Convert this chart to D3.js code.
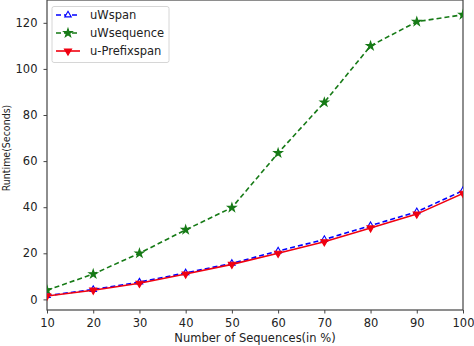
<!DOCTYPE html>
<html><head><meta charset="utf-8">
<script src="https://cdn.jsdelivr.net/npm/d3@7"></script>
<style>body{margin:0;background:#fff}svg{display:block;font-family:"DejaVu Sans",sans-serif}</style>
</head><body><svg id="c" width="474" height="346"></svg>
<script>
const xValues = [10,20,30,40,50,60,70,80,90,100];
const uWspan = [1.6,4.3,7.5,11.5,15.6,21,26,32,38,47.2];
const uWsequence = [4,11,20,30.2,39.8,63.5,85.5,110,120.5,123.5];
const uPrefixspan = [1.5,4,7,11,15.2,20,25,31,37,46];
const xTicks = [10,20,30,40,50,60,70,80,90,100];
const yTicks = [0,20,40,60,80,100,120];
const seriesNames = ["uWspan","uWsequence","u-Prefixspan"];

const svg = d3.select("#c");
const L=47,R=463,T=0,B=310;
const x = d3.scaleLinear().domain([10,100]).range([L,R]);
const y = d3.scaleLinear().domain([-4.6,129.9]).range([B,T]);
const fs="11.5px";
const axisColor="#444";
const gx = svg.append("g").attr("transform",`translate(0,${B})`)
  .call(d3.axisBottom(x).tickValues(xTicks).tickSize(3.5).tickPadding(5));
const gy = svg.append("g").attr("transform",`translate(${L},0)`)
  .call(d3.axisLeft(y).tickValues(yTicks).tickSize(3.5).tickPadding(6));
[gx,gy].forEach(g=>{g.select(".domain").remove();g.selectAll("line").attr("stroke",axisColor);
  g.selectAll("text").attr("font-size",fs).attr("fill","#222").attr("font-family","DejaVu Sans");});
svg.append("rect").attr("x",L).attr("y",T).attr("width",R-L).attr("height",B-T)
  .attr("fill","none").attr("stroke",axisColor).attr("stroke-width",1.2);

const line = d3.line().x((d,i)=>x(xValues[i])).y(d=>y(d));
const series = [
  {name:seriesNames[0],data:uWspan,color:"#0000ff",dash:"5,3",sym:d3.symbolTriangle,fill:"#fff",rot:0,size:18},
  {name:seriesNames[1],data:uWsequence,color:"#167a16",dash:"5,3",sym:d3.symbolStar,fill:"#167a16",rot:0,size:22},
  {name:seriesNames[2],data:uPrefixspan,color:"#f00010",dash:null,sym:d3.symbolTriangle,fill:"#f00010",rot:180,size:22},
];
svg.append("clipPath").attr("id","cp").append("rect").attr("x",L).attr("y",T).attr("width",R-L).attr("height",B-T);
const plot = svg.append("g").attr("clip-path","url(#cp)");
series.forEach(s=>{
  plot.append("path").attr("d",line(s.data)).attr("fill","none").attr("stroke",s.color)
    .attr("stroke-width",1.6).attr("stroke-dasharray",s.dash);
  plot.selectAll(null).data(s.data).enter().append("path")
    .attr("d",d3.symbol().type(s.sym).size(s.size))
    .attr("transform",(d,i)=>`translate(${x(xValues[i])},${y(d)}) rotate(${s.rot})`)
    .attr("fill",s.fill).attr("stroke",s.color).attr("stroke-width",1.1);
});

// legend
const lg = svg.append("g");
lg.append("rect").attr("x",52).attr("y",6.5).attr("width",117).attr("height",56).attr("rx",2)
  .attr("fill","#fff").attr("stroke","#ccc").attr("stroke-width",0.8);
series.forEach((s,i)=>{
  const yy=15+i*18;
  lg.append("line").attr("x1",56).attr("x2",80).attr("y1",yy).attr("y2",yy)
    .attr("stroke",s.color).attr("stroke-width",1.6).attr("stroke-dasharray",s.dash);
  lg.append("path").attr("d",d3.symbol().type(s.sym).size(s.size))
    .attr("transform",`translate(68,${yy}) rotate(${s.rot})`)
    .attr("fill",s.fill).attr("stroke",s.color).attr("stroke-width",1.1);
  lg.append("text").attr("x",90).attr("y",yy).attr("dy","0.35em").attr("font-size",fs)
    .attr("fill","#222").text(s.name);
});

svg.append("text").attr("x",255).attr("y",342).attr("text-anchor","middle")
  .attr("font-size",fs).attr("fill","#222").text("Number of Sequences(in %)");
svg.append("text").attr("transform",`translate(10,148) rotate(-90)`).attr("text-anchor","middle")
  .attr("font-size","10.5px").attr("font-family","'DejaVu Sans Condensed','DejaVu Sans',sans-serif")
  .attr("fill","#222").text("Runtime(Seconds)");
</script></body></html>
